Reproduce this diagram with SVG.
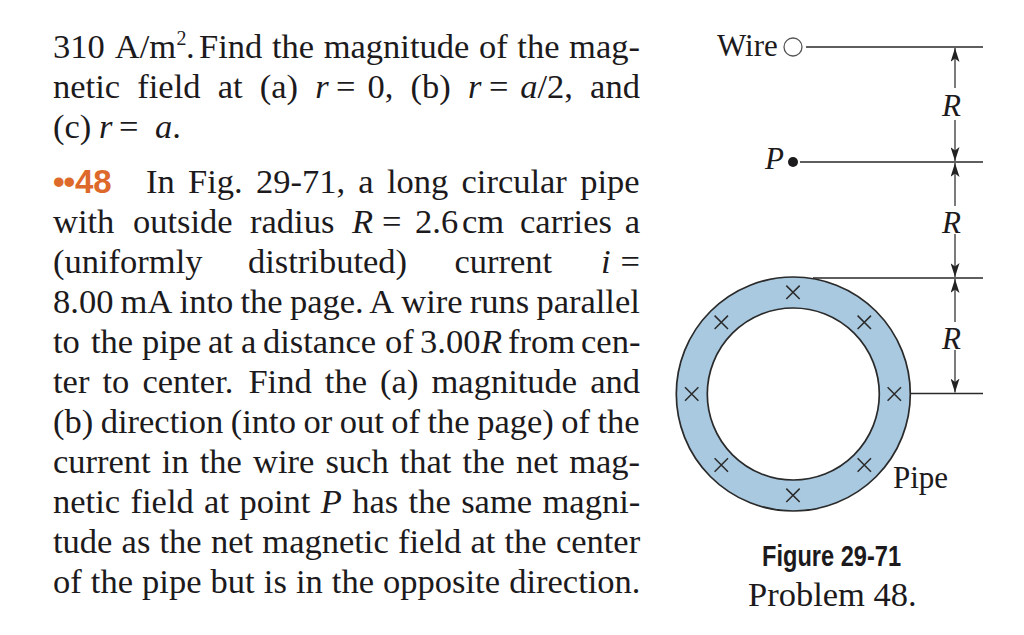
<svg xmlns="http://www.w3.org/2000/svg" width="1024" height="635" viewBox="0 0 1024 635">
<style>
.t{font-family:"Liberation Serif","Times New Roman",serif;font-size:34.5px;fill:#1c1a1c}
.i{font-style:italic}
.l{font-family:"Liberation Serif","Times New Roman",serif;font-size:31px;fill:#1c1a1c}
.ln{stroke:#2a2a2a;stroke-width:1.4;fill:none}
.ar{stroke:#444;stroke-width:1.4;fill:none;marker-end:url(#ah)}
.x{stroke:#2a2a2a;stroke-width:1.5;fill:none}
</style>
<defs>
<marker id="ah" viewBox="0 0 14 9" refX="14" refY="4.5" markerWidth="14" markerHeight="9" markerUnits="userSpaceOnUse" orient="auto"><path d="M0 0L14 4.5L0 9L3.5 4.5Z" fill="#222"/></marker>
<path id="cross" class="x" d="M-6.7-6.7L6.7 6.7M-6.7 6.7L6.7-6.7"/>
</defs>
<rect width="1024" height="635" fill="#fff"/>
<g id="body-text">
<text class="t" y="57.5"><tspan x="53">310</tspan><tspan x="114.8">A/m</tspan><tspan x="176.5" y="45" font-size="20">2</tspan><tspan x="186" y="57.5">.</tspan><tspan x="199">Find</tspan><tspan x="271.9">the</tspan><tspan x="323.7">magnitude</tspan><tspan x="479">of</tspan><tspan x="517.3">the</tspan><tspan x="569.1">mag-</tspan></text>
<text class="t" y="97.5"><tspan x="53">netic</tspan><tspan x="137.3">field</tspan><tspan x="217.7">at</tspan><tspan x="259.8">(a)</tspan><tspan x="315.3" class="i">r</tspan><tspan x="336">=</tspan><tspan x="367.5">0,</tspan><tspan x="410.6">(b)</tspan><tspan x="468" class="i">r</tspan><tspan x="489">=</tspan><tspan x="520.2" class="i">a</tspan><tspan x="537.5">/2,</tspan><tspan x="590.1">and</tspan></text>
<text class="t" y="137.5"><tspan x="53">(c)</tspan><tspan x="99" class="i">r</tspan><tspan x="119">=</tspan><tspan x="155" class="i">a</tspan><tspan x="172.3">.</tspan></text>
<text y="192.5" font-family="'Liberation Sans',Arial,sans-serif" font-weight="700" font-size="33" fill="#dd6a2a"><tspan x="53" letter-spacing="-1">••</tspan><tspan x="75">48</tspan></text>
<text class="t" y="192.5"><tspan x="146">In</tspan><tspan x="188">Fig.</tspan><tspan x="255.9">29-71,</tspan><tspan x="358.3">a</tspan><tspan x="386.9">long</tspan><tspan x="461.5">circular</tspan><tspan x="580.2">pipe</tspan></text>
<text class="t" y="232.5"><tspan x="53">with</tspan><tspan x="133">outside</tspan><tspan x="250">radius</tspan><tspan x="352" class="i">R</tspan><tspan x="382">=</tspan><tspan x="415">2.6</tspan><tspan x="462">cm</tspan><tspan x="520">carries</tspan><tspan x="624.7">a</tspan></text>
<text class="t" y="272.5"><tspan x="53">(uniformly</tspan><tspan x="248">distributed)</tspan><tspan x="454.5">current</tspan><tspan x="601" class="i">i</tspan><tspan x="620.5">=</tspan></text>
<text class="t" y="312.5"><tspan x="53">8.00</tspan><tspan x="120.6">mA</tspan><tspan x="179.6">into</tspan><tspan x="240.5">the</tspan><tspan x="289.9">page.</tspan><tspan x="369.2">A</tspan><tspan x="401.3">wire</tspan><tspan x="469.8">runs</tspan><tspan x="536.4">parallel</tspan></text>
<text class="t" y="352.5"><tspan x="53">to</tspan><tspan x="91">the</tspan><tspan x="142">pipe</tspan><tspan x="208">at</tspan><tspan x="241">a</tspan><tspan x="263">distance</tspan><tspan x="385">of</tspan><tspan x="420">3.00</tspan><tspan x="481" class="i">R</tspan><tspan x="508">from</tspan><tspan x="581">cen-</tspan></text>
<text class="t" y="392.5"><tspan x="53">ter</tspan><tspan x="102.5">to</tspan><tspan x="142.4">center.</tspan><tspan x="248.4">Find</tspan><tspan x="324.8">the</tspan><tspan x="380.1">(a)</tspan><tspan x="431.5">magnitude</tspan><tspan x="590.3">and</tspan></text>
<text class="t" y="432.5"><tspan x="53">(b)</tspan><tspan x="100.7">direction</tspan><tspan x="230.8">(into</tspan><tspan x="303.5">or</tspan><tspan x="339.7">out</tspan><tspan x="391.3">of</tspan><tspan x="427.5">the</tspan><tspan x="477.2">page)</tspan><tspan x="561.3">of</tspan><tspan x="597.5">the</tspan></text>
<text class="t" y="472.5"><tspan x="53">current</tspan><tspan x="161.8">in</tspan><tspan x="199.7">the</tspan><tspan x="253">wire</tspan><tspan x="325.4">such</tspan><tspan x="399.7">that</tspan><tspan x="462.6">the</tspan><tspan x="515.9">net</tspan><tspan x="569.2">mag-</tspan></text>
<text class="t" y="512.5"><tspan x="53">netic</tspan><tspan x="130.5">field</tspan><tspan x="204.1">at</tspan><tspan x="239.4">point</tspan><tspan x="320.7" class="i">P</tspan><tspan x="352.2">has</tspan><tspan x="408.6">the</tspan><tspan x="461.2">same</tspan><tspan x="542.5">magni-</tspan></text>
<text class="t" y="552.5"><tspan x="53">tude</tspan><tspan x="121.6">as</tspan><tspan x="159.5">the</tspan><tspan x="210.9">net</tspan><tspan x="262.3">magnetic</tspan><tspan x="398">field</tspan><tspan x="470.4">at</tspan><tspan x="504.5">the</tspan><tspan x="555.9">center</tspan></text>
<text class="t" y="592.5"><tspan x="53">of</tspan><tspan x="90.8">the</tspan><tspan x="142.1">pipe</tspan><tspan x="210.6">but</tspan><tspan x="263.8">is</tspan><tspan x="295.9">in</tspan><tspan x="331.8">the</tspan><tspan x="383.1">opposite</tspan><tspan x="509.2">direction.</tspan></text>
</g>
<g id="connectors">
<path class="ln" d="M806 47H983M800 162H983M813 278H983M910.5 393.5H983"/>
<path class="ar" d="M955 88V48"/><path class="ar" d="M955 120V161"/>
<path class="ar" d="M955 206V163"/><path class="ar" d="M955 234V277"/>
<path class="ar" d="M955 322V279"/><path class="ar" d="M955 350V392.5"/>
</g>
<g id="wire"><circle cx="793" cy="47" r="9" fill="#fff" stroke="#555" stroke-width="1.3"/><text class="l" x="717" y="56">Wire</text></g>
<g id="point-p"><circle cx="793" cy="162" r="5" fill="#1c1a1c"/><text class="l i" x="765" y="169">P</text></g>
<g id="pipe">
<path fill="#a9c9e0" fill-rule="evenodd" d="M676.3 394a117 117 0 1 0 234 0a117 117 0 1 0 -234 0ZM707.3 394a86 86 0 1 0 172 0a86 86 0 1 0 -172 0Z"/>
<circle cx="793.3" cy="394" r="117" fill="none" stroke="#2a2a2a" stroke-width="1.7"/>
<circle cx="793.3" cy="394" r="86" fill="none" stroke="#2a2a2a" stroke-width="1.7"/>
<use href="#cross" x="793" y="292.3"/><use href="#cross" x="721.3" y="322.3"/><use href="#cross" x="864.3" y="322.3"/><use href="#cross" x="691.7" y="394"/><use href="#cross" x="894.3" y="394"/><use href="#cross" x="721.3" y="465"/><use href="#cross" x="864.3" y="465"/><use href="#cross" x="793" y="495.3"/>
<text class="l" x="893" y="488">Pipe</text>
</g>
<g id="dim-labels">
<text class="l i" x="942" y="116">R</text><text class="l i" x="942" y="233">R</text><text class="l i" x="942" y="349">R</text>
</g>
<g id="caption">
<text x="762" y="566" font-family="'Liberation Sans Narrow','Liberation Sans',Arial,sans-serif" font-weight="700" font-size="29" fill="#1c1a1c" textLength="139" lengthAdjust="spacingAndGlyphs">Figure 29-71</text>
<text x="748" y="606" font-family="'Liberation Serif','Times New Roman',serif" font-size="34.5" fill="#1c1a1c">Problem 48.</text>
</g>
</svg>
